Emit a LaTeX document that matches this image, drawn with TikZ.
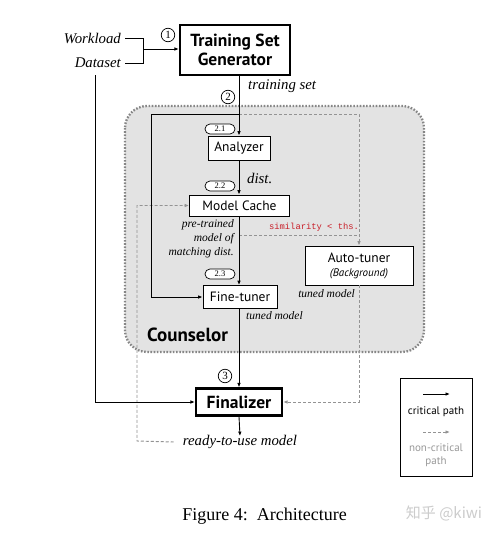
\documentclass[tikz,border=0pt]{standalone}
\usepackage{fontspec}
\setmainfont{Liberation Serif}
\setsansfont{PT Sans}
\setmonofont{Liberation Mono}
\newfontfamily\cjkfont{Noto Sans CJK SC}
\usetikzlibrary{arrows.meta,shapes.misc}
\definecolor{simred}{RGB}{200,30,40}
\begin{document}
\begin{tikzpicture}[x=1pt,y=-1pt,
  arr/.style={-{Latex[length=4.5pt,width=3.6pt]}},
  main/.style={line width=0.9pt,black},
  gdash/.style={line width=0.95pt,draw=gray!85,dash pattern=on 3pt off 2pt},
  stage/.style={draw,fill=white,line width=0.8pt,font=\sffamily\fontsize{13.5}{15}\selectfont,inner sep=0pt,align=center},
  bigstage/.style={draw,fill=white,line width=2.2pt,font=\sffamily\bfseries\fontsize{17.5}{19}\selectfont,inner sep=0pt,align=center},
  pill/.style={draw,fill=white,rounded rectangle,line width=0.7pt,font=\fontsize{8.5}{9}\selectfont,minimum width=30pt,minimum height=10pt,inner sep=0pt},
  cnum/.style={draw,circle,line width=0.7pt,font=\fontsize{11}{11}\selectfont,inner sep=0pt,minimum size=13.5pt},
  lab/.style={font=\itshape\fontsize{14.8}{17}\selectfont,inner sep=0pt},
  slab/.style={font=\itshape\fontsize{11.5}{14}\selectfont,inner sep=0pt},
]
\useasboundingbox[fill=white] (0,0) rectangle (496,533);
% Counselor region
\draw[draw=gray!95,fill=gray!22,line width=2.3pt,dash pattern=on 1.6pt off 1.6pt,rounded corners=22pt] (125,106) rectangle (424,352);
\node[font=\sffamily\bfseries\fontsize{19}{21}\selectfont,anchor=west,inner sep=0pt] (cns) at (147,335) {Counselor};

% nodes
\node[lab,anchor=east] (wl) at (121,38) {Workload};
\node[lab,anchor=east] (ds) at (121,63) {Dataset};
\node[bigstage,minimum width=110pt,minimum height=50pt] (tsg) at (235,50) {Training Set\\Generator};
\node[stage,minimum width=62pt,minimum height=24pt] (ana) at (239,148) {Analyzer};
\node[stage,minimum width=100pt,minimum height=21pt] (mc) at (239.5,205.5) {Model Cache};
\node[stage,minimum width=74pt,minimum height=23pt] (ft) at (240,297) {Fine-tuner};
\node[stage,minimum width=108pt,minimum height=39pt] (at) at (359,265.5) {Auto-tuner\\[-1pt]{\itshape\fontsize{11}{12}\selectfont(Background)}};
\node[bigstage,minimum width=86pt,minimum height=27pt] (fin) at (239,402) {Finalizer};
\node[lab] (out) at (240,442) {ready-to-use model};

\node[pill] (p1) at (220,129) {2.1};
\node[pill] (p2) at (220,186) {2.2};
\node[pill] (p3) at (220,274) {2.3};
\node[cnum] (c1) at (168,35) {1};
\node[cnum] (c2) at (228,97) {2};
\node[cnum] (c3) at (225,376) {3};

\node[lab,anchor=west] (tsl) at (248,86) {training set};
\node[lab,anchor=west] (dl) at (247,178) {dist.};
\node[slab,align=right,anchor=north east] (ptl) at (234,219) {pre-trained\\model of\\matching dist.};
\node[font=\ttfamily\fontsize{8.8}{10}\selectfont,text=simred,inner sep=0pt] (siml) at (314,227) {similarity < ths.};
\node[slab,anchor=east] (tm1) at (355,294) {tuned model};
\node[slab,anchor=west] (tm2) at (246,316) {tuned model};

% coordinates
\coordinate (j) at (143,49);
\coordinate (top) at (239,114);
\coordinate (tl) at (151,114);
\coordinate (bl) at (151,297);
\coordinate (tr) at (359,114);
\coordinate (sim) at (239,235);
\coordinate (dsd) at (95,75);
\coordinate (fb) at (137,441);

% gray dashed paths
\draw[gdash,arr] (top) -- (tr) -- (at.north);
\draw[gdash] (sim) -- (sim -| at.north);
\draw[gdash,arr] (at.south) |- (fin.east);
\draw[gdash,arr] ([xshift=-9pt]out.west) -- (fb) |- (mc.west);

% critical paths
\draw[main] ([xshift=4pt]wl.east) -| (j);
\draw[main] ([xshift=4pt]ds.east) -| (j);
\draw[main,arr] (j) -- (tsg.west |- j);
\draw[main,arr] (ana.north |- tsg.south) -- (ana.north);
\draw[main,arr] (top) -- (tl) -- (bl) -- (ft.west);
\draw[main,arr] (ana.south) -- (mc.north -| ana.south);
\draw[main,arr] (mc.south -| ana.south) -- (ft.north -| ana.south);
\draw[main,arr] (ft.south -| ana.south) -- (fin.north -| ana.south);
\draw[main,arr] (dsd) |- (fin.west);
\draw[main,arr] (fin.south) -- ([yshift=-1pt]out.north);

% legend
\node[draw,line width=1pt,minimum width=72pt,minimum height=98pt,inner sep=0pt] (leg) at (436,427) {};
\coordinate (l1a) at (423,394);
\coordinate (l1b) at (450,394);
\coordinate (l2a) at (423,432);
\coordinate (l2b) at (450,432);
\draw[main,arr] (l1a) -- (l1b);
\draw[gdash,arr] (l2a) -- (l2b);
\node[font=\sffamily\fontsize{11}{12}\selectfont,inner sep=0pt] (lt1) at (436,412) {critical path};
\node[font=\sffamily\fontsize{11}{13}\selectfont,text=gray!80,align=center,inner sep=0pt] (lt2) at (436,455) {non-critical\\path};

% caption
\node[font=\fontsize{18}{20}\selectfont,inner sep=0pt] (cap) at (264.5,516) {Figure 4:\ \ Architecture};
\node[font=\cjkfont\fontsize{15}{17}\selectfont,text=gray!40,inner sep=0pt] (wm) at (444,513) {知乎 @kiwi};
\end{tikzpicture}
\end{document}
